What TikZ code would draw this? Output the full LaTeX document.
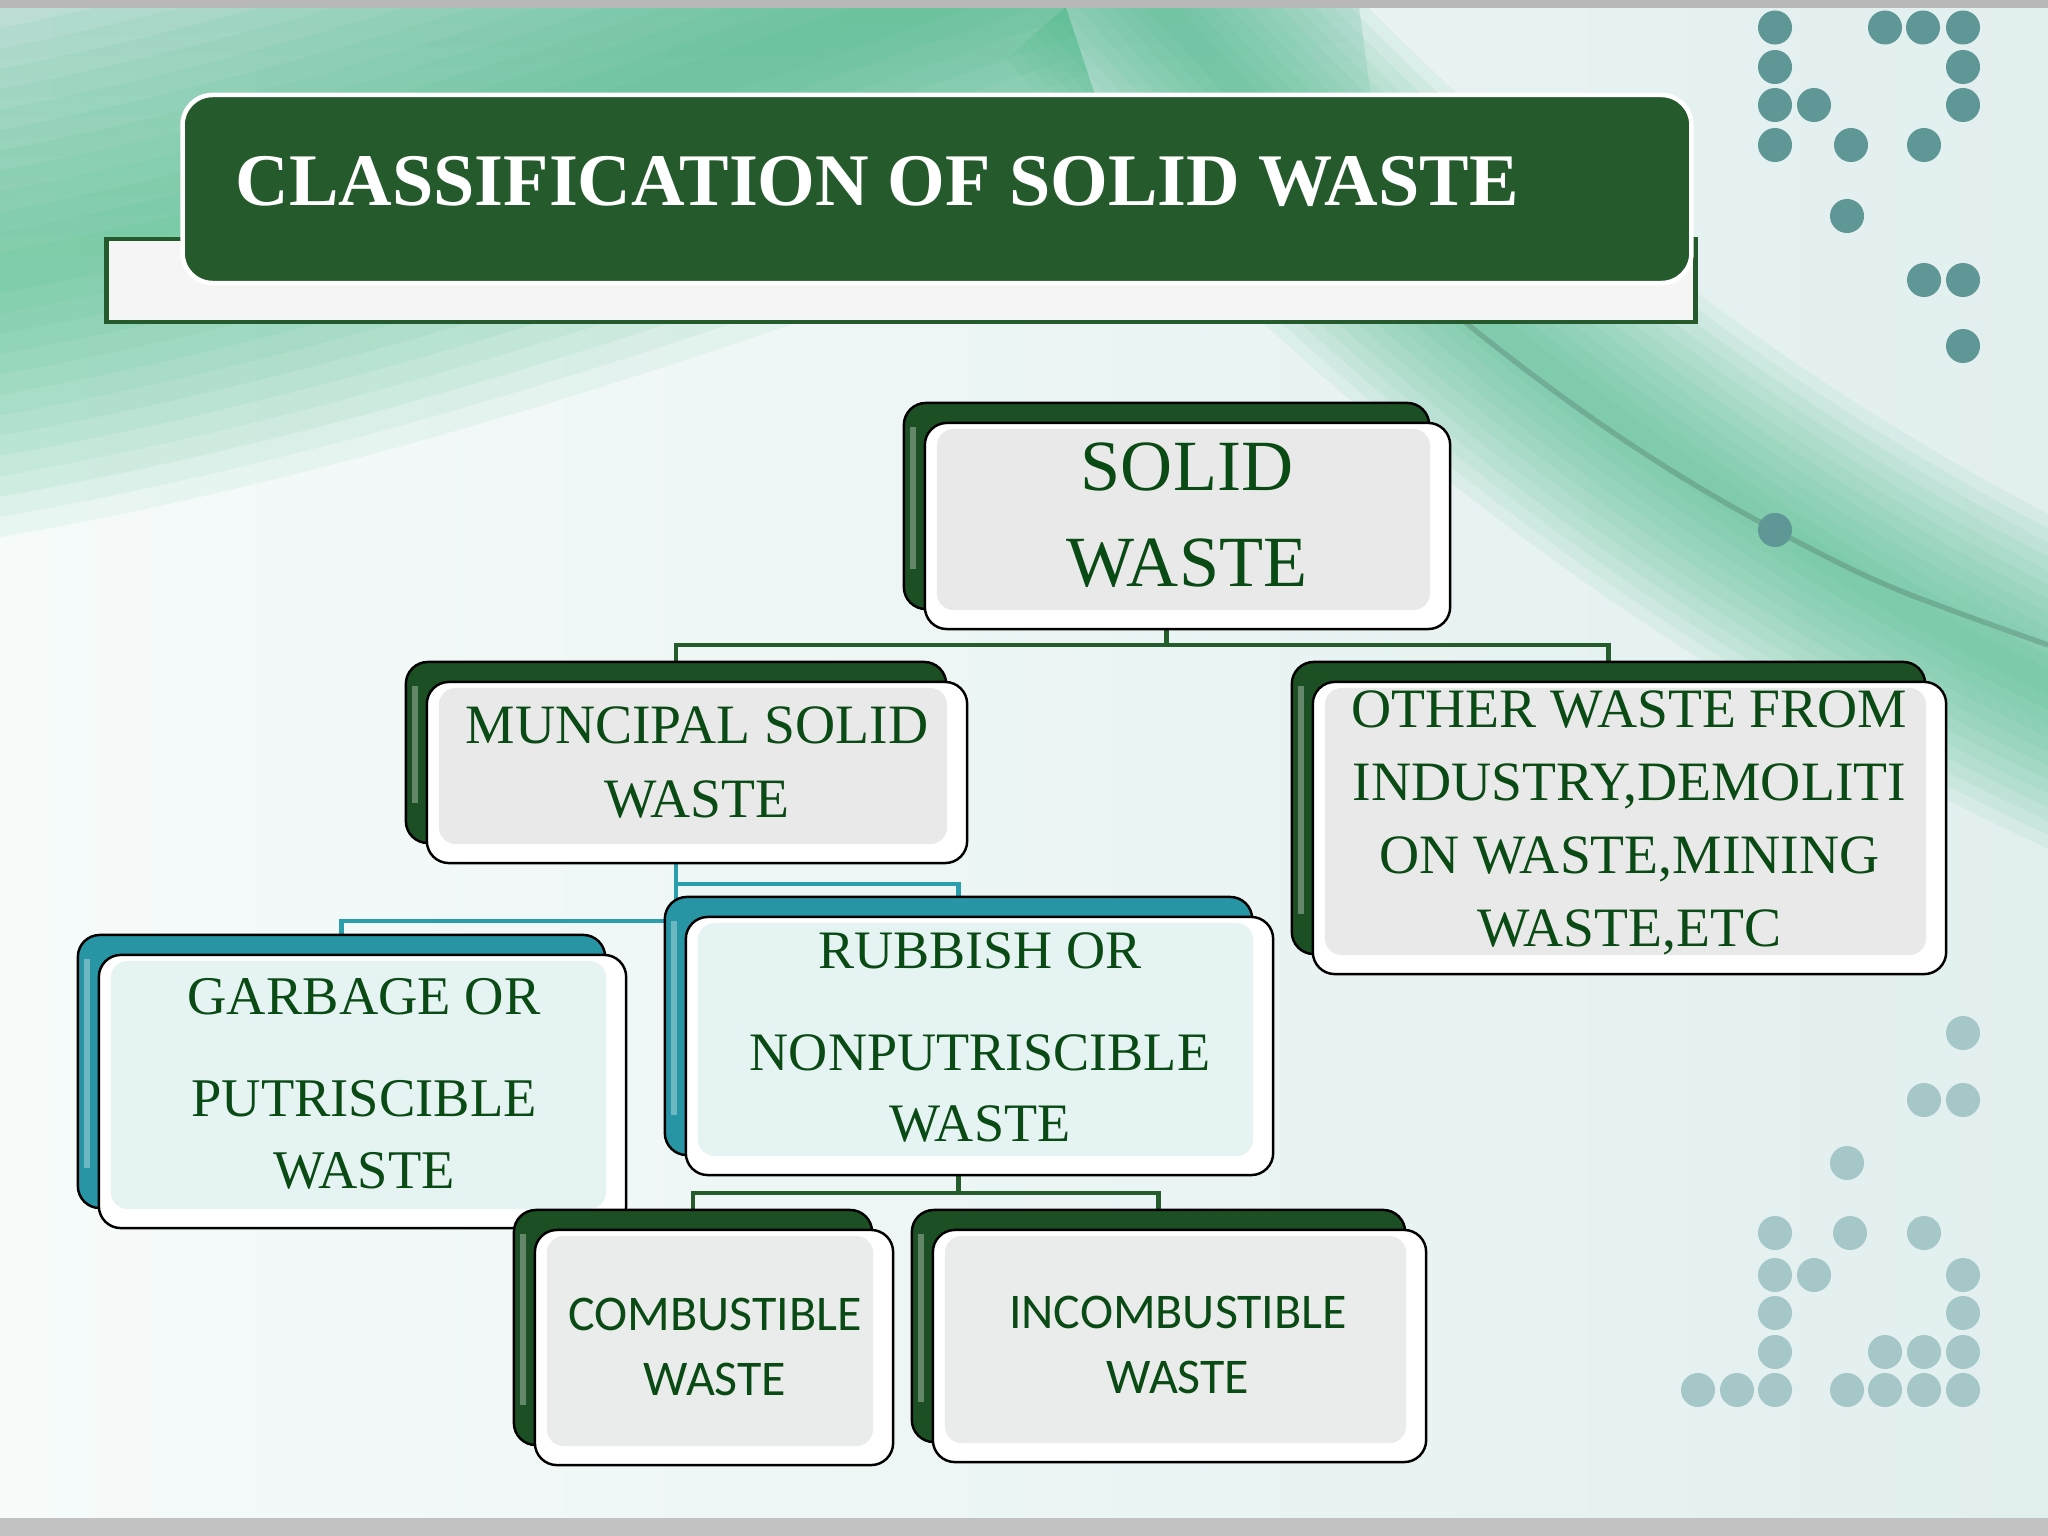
\documentclass[tikz,border=0pt]{standalone}
\usepackage{fontspec}
\setmainfont{Liberation Serif}
\newfontfamily\calib{Carlito}
\pgfdeclarelayer{bglayer}
\pgfdeclarelayer{edgelayer}
\pgfsetlayers{bglayer,edgelayer,main}
\definecolor{titleg}{HTML}{245A2C}
\definecolor{backg}{HTML}{1C4F23}
\definecolor{backt}{HTML}{2895A5}
\definecolor{conng}{HTML}{245C2C}
\definecolor{connt}{HTML}{2B9EAE}
\definecolor{txtg}{HTML}{0A4A14}
\definecolor{panelgray}{HTML}{E9E9E9}
\definecolor{panelcyan}{HTML}{E6F3F3}
\definecolor{panelgg}{HTML}{E9ECEA}
\definecolor{bgL}{HTML}{F6FBFA}
\definecolor{bgR}{HTML}{E2EFEF}
\definecolor{topteal}{HTML}{9FD2C6}
\definecolor{ribL}{HTML}{3DB680}
\definecolor{ribR}{HTML}{48BA88}
\definecolor{dotdark}{HTML}{5F9696}
\definecolor{dotlight}{HTML}{A6C7C8}
\definecolor{streak}{HTML}{557F70}
\newcommand\wbox[7]{%
  \node[backbox=#6, minimum width=#4, minimum height=#5] (#1B) at ({#2-21},{#3-20}) {};
  \node[frontbox=#7, minimum width=#4, minimum height=#5] (#1) at (#2,#3) {};}
\begin{document}
\begin{tikzpicture}[x=0.01cm,y=-0.01cm,
  conn/.style={line width=1.4pt, draw=conng},
  connT/.style={line width=1.4pt, draw=connt},
  backbox/.style={draw=black, line width=0.7pt, rounded corners=0.22cm, inner sep=0pt, fill=#1,
    path picture={\draw[line width=1.6pt, #1!60!white, draw opacity=0.8]
      ([shift={(9,-40)}]path picture bounding box.south west) --
      ([shift={(9,24)}]path picture bounding box.north west);}},
  frontbox/.style={draw=black, line width=0.7pt, rounded corners=0.22cm, inner sep=0pt, fill=white,
    path picture={\fill[#1, rounded corners=0.17cm]
      ([shift={(12,-19)}]path picture bounding box.south west) rectangle
      ([shift={(-20,6)}]path picture bounding box.north east);}},
  lbl/.style={text=txtg, align=center, inner sep=0pt},
  softL/.style={draw=ribL, draw opacity=0.07, line cap=butt},
  softR/.style={draw=ribR, draw opacity=0.08, line cap=butt},
  softT/.style={draw=topteal, draw opacity=0.06, line cap=butt}]
\useasboundingbox (0,0) rectangle (2048,1536);
\begin{pgfonlayer}{bglayer}
  \shade[left color=bgL, right color=bgR] (0,0) rectangle (2048,1536);
  % pale teal top wash (left part)
  \foreach \w in {40,80,...,480}
    \draw[softT, line width=\w*0.2845pt] (-100,20) .. controls (400,10) and (900,0) .. (1350,-60);
  % left ribbon (soft stacked strokes)
  \foreach \w in {40,80,...,520}
    \draw[softL, line width=\w*0.2845pt] (-100,290) .. controls (350,220) and (750,60) .. (1050,-40);
  % right ribbon
  \foreach \w in {25,50,...,300}
    \draw[softR, line width=\w*0.2845pt] (1120,-40) .. controls (1380,260) and (1720,540) .. (2150,730);
  \draw[streak, draw opacity=0.4, line width=1.5pt] (1380,250) .. controls (1550,400) and (1680,480) .. (1775,530)
     .. controls (1880,585) .. (2048,645);
  % grey bars
  \fill[black!28] (0,0) rectangle (2048,8);
  \fill[black!24] (0,1518) rectangle (2048,1536);
  % dots
  \foreach \p in {(1775,27.5),(1885,27.5),(1923,27.5),(1963,27.5),(1775,67),(1963,67),
      (1775,105),(1814,105),(1963,105),(1775,145),(1851,145),(1924,145),(1847,216),
      (1924,280),(1963,280),(1963,346),(1775,530)}
    \fill[dotdark] \p circle[radius=0.17cm];
  \foreach \p in {(1963,1033),(1924,1100),(1963,1100),(1847,1163),(1775,1233),(1850,1233),(1924,1233),
      (1775,1275),(1814,1275),(1963,1275),(1775,1313),(1963,1313),
      (1775,1352),(1885,1352),(1924,1352),(1963,1352),
      (1698,1390),(1737,1390),(1775,1390),(1847,1390),(1885,1390),(1924,1390),(1963,1390)}
    \fill[dotlight] \p circle[radius=0.17cm];
\end{pgfonlayer}

% title
\node[draw=titleg, line width=1.2pt, fill=white!96!black, minimum width=15.88cm, minimum height=0.83cm, inner sep=0pt] (tframe) at (901,280.5) {};
\node[fill=titleg, draw=white, line width=1.3pt, rounded corners=0.3cm, minimum width=15.08cm, minimum height=1.88cm, inner sep=0pt] (tbox) at (937,189) {};
\node[anchor=base west, text=white, inner sep=0pt, font=\bfseries\fontsize{21.1pt}{25pt}\selectfont] (ttext) at (235,205) {CLASSIFICATION OF SOLID WASTE};

% boxes
\wbox{solid}{1187.5}{526}{5.25cm}{2.06cm}{backg}{panelgray}
\wbox{muni}{697}{772.5}{5.40cm}{1.81cm}{backg}{panelgray}
\wbox{other}{1629.5}{828}{6.33cm}{2.92cm}{backg}{panelgray}
\wbox{garb}{362.5}{1091.5}{5.27cm}{2.73cm}{backt}{panelcyan}
\wbox{rubb}{979.5}{1046}{5.87cm}{2.58cm}{backt}{panelcyan}
\wbox{comb}{714}{1347.5}{3.58cm}{2.35cm}{backg}{panelgg}
\wbox{incomb}{1179.5}{1346}{4.93cm}{2.32cm}{backg}{panelgg}

% labels
\node[lbl, font=\fontsize{20.5pt}{27.3pt}\selectfont] (solidT) at (1187,515.5) {SOLID\\WASTE};
\node[lbl, font=\fontsize{15.8pt}{21.05pt}\selectfont] (muniT) at (697,763) {MUNCIPAL SOLID\\WASTE};
\node[lbl, font=\fontsize{15.8pt}{20.8pt}\selectfont] (otherT) at (1629.5,823) {OTHER WASTE FROM\\INDUSTRY,DEMOLITI\\ON WASTE,MINING\\WASTE,ETC};
\node[lbl, font=\fontsize{15.5pt}{20.3pt}\selectfont] (garbT) at (364,1084) {GARBAGE OR\\[8.7pt]PUTRISCIBLE\\WASTE};
\node[lbl, font=\fontsize{15.4pt}{20.3pt}\selectfont] (rubbT) at (980,1037.5) {RUBBISH OR\\[8.7pt]NONPUTRISCIBLE\\WASTE};
\node[lbl, font=\calib\fontsize{14.2pt}{18.5pt}\selectfont] (combT) at (715,1346.5) {COMBUSTIBLE\\WASTE};
\node[lbl, font=\calib\fontsize{14.2pt}{18.5pt}\selectfont] (incombT) at (1178,1345) {INCOMBUSTIBLE\\WASTE};

% connectors
\coordinate (busA) at (0,645);
\coordinate (busB) at (0,884);
\coordinate (busC) at (0,921);
\coordinate (busD) at (0,1193);
\begin{pgfonlayer}{edgelayer}
  \draw[conn] (solidB.center) -- (solidB.center |- busA) -| (muniB.center);
  \draw[conn] (solidB.center |- busA) -| (otherB.center);
  \draw[connT] (muniB.center) -- (muniB.center |- busC) -| (garbB.center);
  \draw[connT] (muniB.center |- busB) -| (rubbB.center);
  \draw[conn] (rubbB.center) -- (rubbB.center |- busD) -| (combB.center);
  \draw[conn] (rubbB.center |- busD) -| (incombB.center);
\end{pgfonlayer}
\end{tikzpicture}
\end{document}
